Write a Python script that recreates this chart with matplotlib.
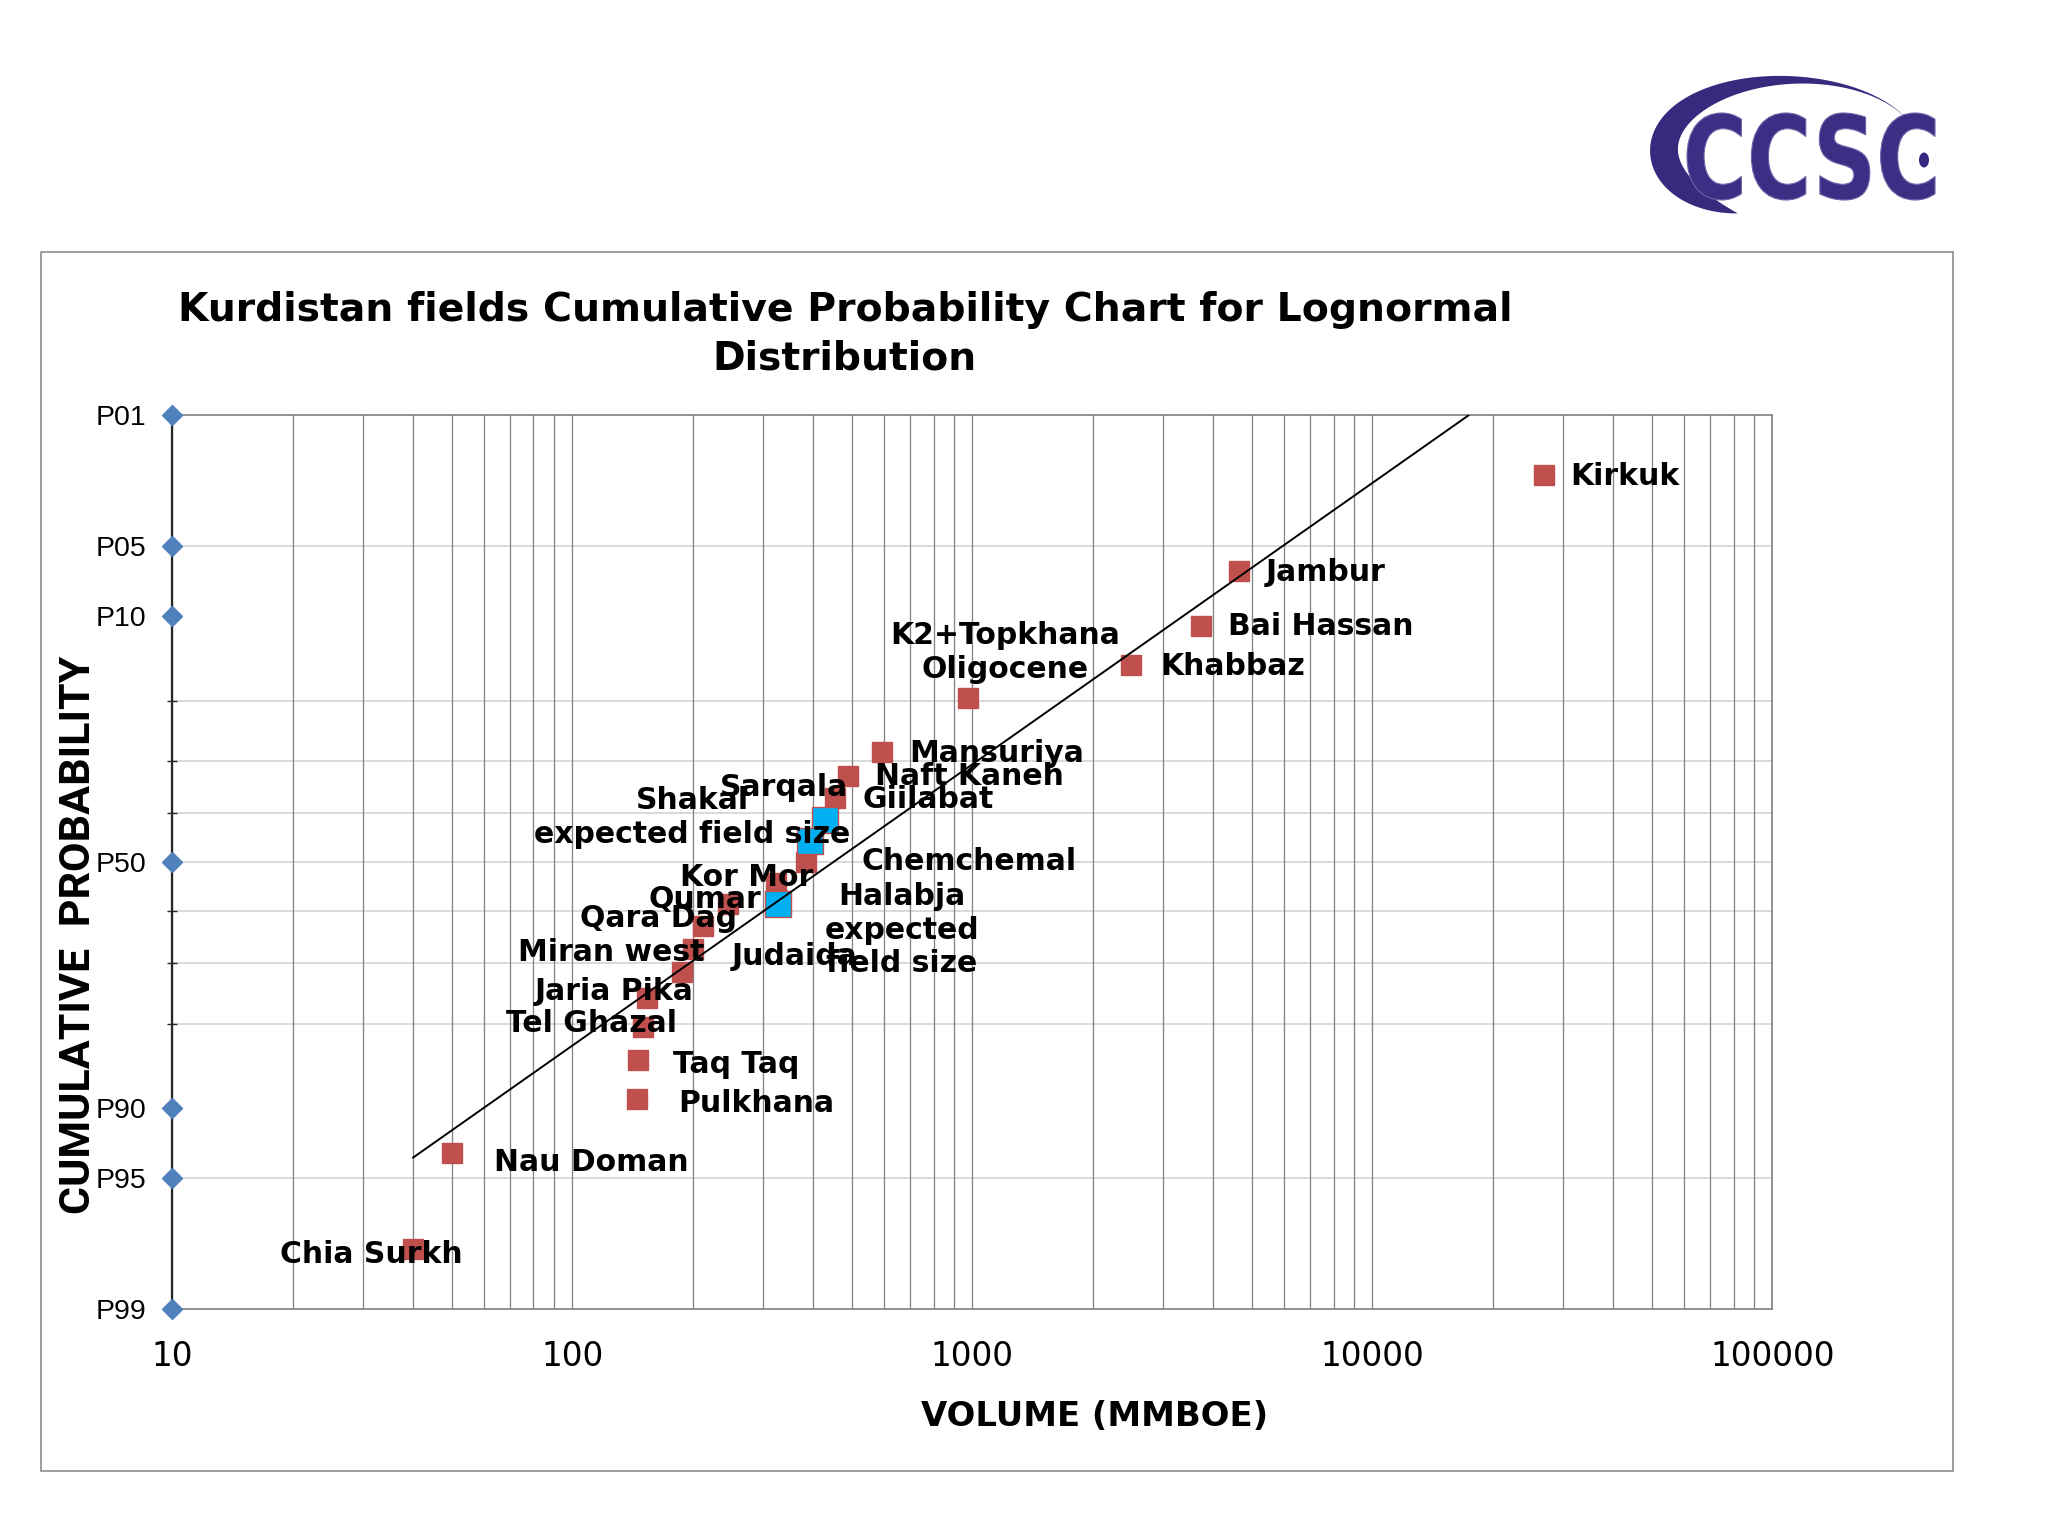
import matplotlib
matplotlib.use("Agg")
import numpy as np
import matplotlib.pyplot as plt
from matplotlib.patches import Rectangle, Polygon, Ellipse, PathPatch
from matplotlib.textpath import TextPath
from matplotlib.font_manager import FontProperties
from matplotlib.transforms import Affine2D
from matplotlib.ticker import FixedLocator, FuncFormatter, NullFormatter
from statistics import NormalDist

# fields, volume (MMBOE) and cumulative probability (%), P01 at the top
fields = ["Kirkuk", "Jambur", "Bai Hassan", "Khabbaz", "K2+Topkhana\nOligocene",
          "Mansuriya", "Naft Kaneh", "Giilabat", "Sarqala", "Shakal\nexpected field size",
          "Chemchemal", "Kor Mor", "Halabja\nexpected\nfield size", "Qumar", "Qara Dag",
          "Miran west", "Judaida", "Jaria Pika", "Tel Ghazal", "Taq Taq", "Pulkhana",
          "Nau Doman", "Chia Surkh"]
volumes = [26900, 4650, 3720, 2490, 975, 596, 489, 453, 428, 393, 383, 324, 327,
           245, 212, 200, 188, 154, 150, 146, 145, 50, 40]
probs = [2.2, 6.5, 10.9, 15.2, 19.6, 28.3, 32.6, 37.0, 41.3, 45.7, 50.0, 54.3, 58.7,
         58.7, 63.0, 67.4, 71.7, 76.1, 80.4, 84.8, 89.1, 93.5, 97.8]
# fields drawn in blue
expected = ["Sarqala", "Shakal\nexpected field size", "Halabja\nexpected\nfield size"]

# fitted lognormal line
trend_vol = [40, 17400]
trend_prob = [93.8, 1.0]

# reference points on the y axis
ref_probs = [1, 5, 10, 50, 90, 95, 99]
ref_labels = ["P01", "P05", "P10", "P50", "P90", "P95", "P99"]
grid_probs = [5, 20, 30, 40, 50, 60, 70, 80, 95]

# label placement (offset in points from the marker)
label_dx = [19, 19, 20, 21, 26.6, 19.5, 19.5, 20, -29.5, -85, 40, -21.6, 89,
            -16.6, -31.7, -59, 81.4, -23.8, -36.7, 25.2, 29.5, 30, -30]
label_dy = [-1, -1, -1, -1, 32.6, -1.4, -1, -1, 23.5, 17.3, 0.7, 4.1, -18.7,
            3.4, 5.5, -2.7, 11.5, 5, 2.4, -3.4, -3.3, -6.7, -3.6]
label_ha = ["left", "left", "left", "left", "center", "left", "left", "left", "center",
            "center", "left", "center", "center", "center", "center", "center", "center",
            "center", "center", "left", "left", "left", "center"]

RED = "#C0504D"
BLUE = "#00B0F0"
DIAMOND = "#4F81BD"

nd = NormalDist()


def zval(p):
    return nd.inv_cdf(1 - p / 100.0)


fig = plt.figure(figsize=(20.48, 15.36), dpi=100)

# background layer in pixel coordinates: frame and logo
bg = fig.add_axes([0, 0, 1, 1])
bg.set_xlim(0, 2048)
bg.set_ylim(1536, 0)
bg.axis("off")
bg.add_patch(Rectangle((40.5, 252), 1912, 1218.6, fill=False, ec="#8c8c8c", lw=1.2))

# logo swoosh
th = np.radians(np.linspace(5, 245, 200))
u = (th - th[0]) / (th[-1] - th[0])
w = 28 * (u ** 3 * (1 - u)) / (0.75 ** 3 * 0.25)
cx, cy, a, b = 1792, 150, 128, 70
nx = np.cos(th) / a
ny = -np.sin(th) / b
nn = np.hypot(nx, ny)
nx, ny = nx / nn, ny / nn
px = cx + a * np.cos(th)
py = cy - b * np.sin(th)
outer = np.column_stack([px + w / 2 * nx, py + w / 2 * ny])
inner = np.column_stack([px - w / 2 * nx, py - w / 2 * ny])[::-1]
bg.add_patch(Polygon(np.vstack([outer, inner]), closed=True, fc="#372A7E", ec="none"))
bg.add_patch(Ellipse((1924, 160), 10, 15, fc="#372A7E", ec="none"))

tp = TextPath((0, 0), "CCSC", size=1, prop=FontProperties(family="DejaVu Sans", weight="bold"))
ext = tp.get_extents()
X0, X1, Ytop, Ybot = 1687, 1935, 113, 200
tr = Affine2D().translate(-ext.x0, -ext.y0).scale((X1 - X0) / ext.width, -(Ybot - Ytop) / ext.height).translate(X0, Ybot)
bg.add_patch(PathPatch(tr.transform_path(tp), fc="#3B2F85", ec="#6d64a8", lw=0.8))

# main chart
ax = fig.add_axes([0.0841, 0.1478, 0.7813, 0.5818])
ax.set_xscale("log")
ax.set_xlim(10, 100000)
ax.set_ylim(zval(99), zval(1))

ax.grid(True, which="both", axis="x", color="#858585", lw=0.95, zorder=0)
for p in grid_probs:
    ax.axhline(zval(p), color="#d0d0d0", lw=1.1, zorder=0.5)

for side in ["top", "right", "bottom"]:
    ax.spines[side].set_color("#7f7f7f")
    ax.spines[side].set_linewidth(1.2)
ax.spines["left"].set_color("#262626")
ax.spines["left"].set_linewidth(1.6)

ax.xaxis.set_major_formatter(FuncFormatter(lambda v, pos: f"{v:.0f}"))
ax.xaxis.set_minor_formatter(NullFormatter())
ax.tick_params(axis="x", which="both", length=0, pad=22, labelsize=23.5)

ax.yaxis.set_major_locator(FixedLocator([zval(p) for p in ref_probs]))
ax.set_yticklabels(ref_labels, fontfamily="Liberation Sans", fontsize=20.5)
ax.yaxis.set_minor_locator(FixedLocator([zval(p) for p in grid_probs]))
ax.yaxis.remove_overlapping_locs = False
ax.tick_params(axis="y", which="major", length=0, pad=18.7)
ax.tick_params(axis="y", which="minor", length=7, width=1, direction="inout", color="#262626")

# reference diamonds on the y axis
ax.plot([10] * len(ref_probs), [zval(p) for p in ref_probs], "D", color=DIAMOND,
        ms=10.5, clip_on=False, zorder=5)

# field markers
for name, v, p in zip(fields, volumes, probs):
    if name in expected:
        continue
    ax.plot(v, zval(p), "s", color=RED, ms=14.5, mec=RED, zorder=3, clip_on=False)
for name, v, p in zip(fields, volumes, probs):
    if name in expected:
        ax.plot(v, zval(p), "s", color=BLUE, ms=19, mec=RED, mew=1, zorder=3.5)

# trend line
ax.plot(trend_vol, [zval(p) for p in trend_prob], color="black", lw=1.4, zorder=4)

# labels
for name, v, p, dx, dy, ha in zip(fields, volumes, probs, label_dx, label_dy, label_ha):
    ax.annotate(name, (v, zval(p)), xytext=(dx, dy), textcoords="offset points",
                ha=ha, va="center", multialignment="center", fontsize=21.5,
                fontweight="bold", zorder=6, annotation_clip=False)

# titles
fig.text(845 / 2048, 1 - 310 / 1536, "Kurdistan fields Cumulative Probability Chart for Lognormal",
         ha="center", va="center", fontsize=28.4, fontweight="bold")
fig.text(845 / 2048, 1 - 358 / 1536, "Distribution",
         ha="center", va="center", fontsize=28.4, fontweight="bold")
fig.text(1095 / 2048, 1 - 1417 / 1536, "VOLUME (MMBOE)", ha="center", va="center",
         fontsize=24.4, fontweight="bold")
fig.text(79 / 2048, 1 - 934.5 / 1536, "CUMULATIVE  PROBABILITY", rotation=90,
         ha="center", va="center", fontsize=31, fontweight="bold",
         family=["Roboto", "DejaVu Sans"])

fig.savefig("out.png", dpi=100)
